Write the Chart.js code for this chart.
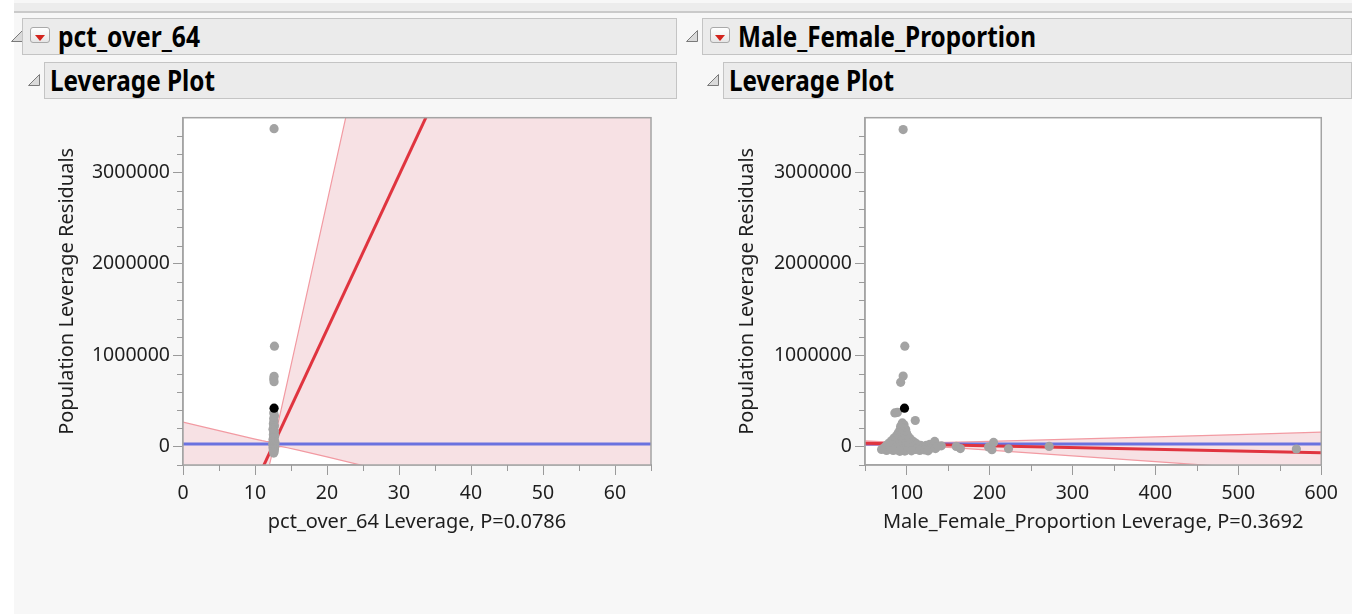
<!DOCTYPE html>
<html>
<head>
<meta charset="utf-8">
<script src="https://cdn.jsdelivr.net/npm/chart.js@4.4.1/dist/chart.umd.min.js"></script>
<style>
  body { margin:0; width:1368px; height:614px; background:#f7f7f7; position:relative; overflow:hidden; font-family:"Noto Sans", sans-serif; }
  .abs { position:absolute; }
  .strip { left:0; top:0; width:14px; height:614px; background:#fff; }
  .rstrip { left:1352px; top:0; width:16px; height:614px; background:#fff; }
  .topband { left:14px; top:3px; width:1338px; height:8px; background:#ececec; border-bottom:2px solid #cacaca; }
  .bar { height:37px; box-sizing:border-box; background:#ebebeb; border:1px solid #c4c4c4; }
  .ttl { font-weight:bold; font-size:28px; color:#000; white-space:nowrap; transform-origin:left center; line-height:32px; }
  .btn { width:20px; height:16px; box-sizing:border-box; border:1px solid #a9a9a9; border-radius:3px; background:linear-gradient(#ffffff,#e6e6e6); }
  .plot { width:625px; height:442px; }
</style>
</head>
<body>
<div class="abs strip"></div>
<div class="abs rstrip"></div>
<div class="abs topband"></div>

<!-- left panel headers -->
<svg class="abs" style="left:11px;top:30px" width="12" height="12"><polygon points="0.5,11.5 11.5,11.5 11.5,0.5" fill="#dadada" stroke="#7a7a7a"/></svg>
<div class="abs bar" style="left:22px;top:18px;width:655px"></div>
<div class="abs btn" style="left:30px;top:27px"><svg width="18" height="14"><polygon points="4,4 14,4 9,10" fill="#d3231c"/></svg></div>
<div class="abs ttl fit" data-w="142" style="left:58px;top:20px">pct_over_64</div>
<svg class="abs" style="left:28px;top:74px" width="12" height="12"><polygon points="0.5,11.5 11.5,11.5 11.5,0.5" fill="#dadada" stroke="#7a7a7a"/></svg>
<div class="abs bar" style="left:44px;top:62px;width:633px"></div>
<div class="abs ttl fit" data-w="165" style="left:50px;top:64px">Leverage Plot</div>

<!-- right panel headers -->
<svg class="abs" style="left:686px;top:30px" width="12" height="12"><polygon points="0.5,11.5 11.5,11.5 11.5,0.5" fill="#dadada" stroke="#7a7a7a"/></svg>
<div class="abs bar" style="left:702px;top:18px;width:650px"></div>
<div class="abs btn" style="left:710px;top:27px"><svg width="18" height="14"><polygon points="4,4 14,4 9,10" fill="#d3231c"/></svg></div>
<div class="abs ttl fit" data-w="298" style="left:738px;top:20px">Male_Female_Proportion</div>
<svg class="abs" style="left:707px;top:74px" width="12" height="12"><polygon points="0.5,11.5 11.5,11.5 11.5,0.5" fill="#dadada" stroke="#7a7a7a"/></svg>
<div class="abs bar" style="left:723px;top:62px;width:629px"></div>
<div class="abs ttl fit" data-w="165" style="left:729px;top:64px">Leverage Plot</div>

<div class="abs plot" style="left:40px;top:103px"><canvas id="leftChart" width="625" height="442"></canvas></div>
<div class="abs plot" style="left:720px;top:103px"><canvas id="rightChart" width="625" height="442"></canvas></div>

<script>
// ---- pct_over_64 leverage plot ----
const ageX = [12.6, 12.7, 12.6, 12.65, 12.55, 12.7, 12.6, 12.5, 12.7, 12.6, 12.55, 12.75, 12.6, 12.5,
  12.7, 12.6, 12.8, 12.45, 12.65, 12.55, 12.75, 12.5, 12.6, 12.7, 12.55, 12.65, 12.6,
  12.65, 12.7, 12.65, 12.6, 12.65];
const ageY = [370000, 340000, 310000, 280000, 250000, 230000, 210000, 190000, 170000, 150000, 130000, 120000, 100000, 80000,
  70000, 50000, 40000, 30000, 20000, 10000, 0, -10000, -20000, -30000, -40000, -55000, -70000,
  3480000, 1100000, 770000, 740000, 712000];
const ageBlack = [{ x: 12.65, y: 422000 }];
const ageFit = [{ x: 0, y: -2099400 }, { x: 65, y: 8885600 }];
const ageMean = 30000;
const ageCurveX = [0, 5, 10, 11, 11.5, 12, 12.3, 12.6, 12.9, 13.2, 13.7, 14.5, 16, 20, 25, 30, 65];
const ageUpper = [270160, 175659, 83070, 66325, 59428, 56366, 61647, 90000, 163047, 259166, 431228, 713304, 1246610, 2673093, 4457572, 6242350, 18737000];
const ageLower = [-4468960, -2684459, -901870, -547125, -371228, -199166, -103047, -30000, -1647, 3634, 572, -11104, -37410, -111893, -206372, -301150, -965783];
const ageXTicks = [0, 10, 20, 30, 40, 50, 60];
const ageXTicksMinor = [5, 15, 25, 35, 45, 55, 65];

// ---- Male_Female_Proportion leverage plot ----
const mfX = [96, 98, 96, 93, 86, 89, 110.6,
  95, 97, 93, 96, 99, 92, 95, 100, 90, 94, 97, 88, 102, 92, 96, 85, 104, 89, 99, 82, 107, 93, 86, 101, 79, 110,
  96, 90, 83, 105, 76, 113, 99, 93, 87, 80, 108, 117, 73, 102, 95, 89, 84, 111, 76, 120, 98, 92, 106, 70, 124,
  116, 128, 122, 130, 126, 134, 135, 138, 142,
  160, 165, 199, 205, 203, 223, 272, 570];
const mfY = [3470000, 1100000, 774000, 705000, 370000, 375000, 287000,
  260000, 240000, 225000, 205000, 190000, 180000, 165000, 150000, 150000, 135000, 120000, 120000, 115000, 100000, 90000, 95000, 90000, 75000, 70000, 65000, 65000, 55000, 45000, 45000, 40000, 45000,
  30000, 20000, 15000, 20000, 15000, 25000, 5000, -5000, -10000, -15000, -5000, 15000, -10000, -25000, -30000, -35000, -40000, -30000, -40000, -10000, -48000, -50000, -45000, -30000, 15000,
  -40000, 25000, -35000, -15000, -45000, 58000, -20000, 5000, 10000,
  3000, -20000, -3000, 47000, -33000, -22000, 3000, -25000];
const mfBlack = [{ x: 97.6, y: 422000 }];
const mfFit = [{ x: 50, y: 38930 }, { x: 600, y: -65570 }];
const mfMean = 30000;
const mfCurveX = [50, 75, 97, 120, 150, 200, 300, 400, 500, 600];
const mfUpper = [64668, 52092, 45000, 43789, 47881, 58657, 83002, 108097, 133391, 158767];
const mfLower = [13192, 16268, 15000, 7471, -8021, -37797, -100142, -163237, -226531, -289907];
const mfXTicks = [100, 200, 300, 400, 500, 600];
const mfXTicksMinor = [50, 150, 250, 350, 450, 550];

const yTicks = [0, 1000000, 2000000, 3000000];
const yTicksMinor = [-200000, 200000, 400000, 600000, 800000, 1200000, 1400000, 1600000, 1800000,
  2200000, 2400000, 2600000, 2800000, 3200000, 3400000];

const pts = (xs, ys) => xs.map((x, i) => ({ x: x, y: ys[i] }));

// white plot area, frame and the short minor ticks
const framePlugin = {
  id: 'frame',
  beforeDraw(chart) {
    const { ctx, chartArea: a } = chart;
    ctx.save();
    ctx.fillStyle = '#ffffff';
    ctx.fillRect(a.left, a.top, a.right - a.left, a.bottom - a.top);
    ctx.restore();
  },
  afterDraw(chart, args, opts) {
    const { ctx, chartArea: a, scales } = chart;
    ctx.save();
    ctx.strokeStyle = '#a4a4a4';
    ctx.lineWidth = 1.5;
    ctx.strokeRect(a.left, a.top, a.right - a.left, a.bottom - a.top);
    ctx.lineWidth = 1;
    ctx.strokeStyle = '#9a9a9a';
    ctx.beginPath();
    opts.xMinor.forEach(v => {
      const px = Math.round(scales.x.getPixelForValue(v)) + 0.5;
      ctx.moveTo(px, a.bottom); ctx.lineTo(px, a.bottom + 6);
    });
    opts.yMinor.forEach(v => {
      const py = Math.round(scales.y.getPixelForValue(v)) + 0.5;
      ctx.moveTo(a.left, py); ctx.lineTo(a.left - 6, py);
    });
    ctx.stroke();
    ctx.restore();
  }
};

function makeChart(id, o) {
  const tickFont = { family: '"Noto Sans", sans-serif', size: 19.5 };
  const titleFont = { family: '"Noto Sans", sans-serif', size: 20 };
  const config = {
    type: 'scatter',
    data: {
      datasets: [
        { data: o.black, backgroundColor: '#000000', pointRadius: 4.6, borderWidth: 0, order: 0 },
        { data: o.points, backgroundColor: '#a3a3a3', pointRadius: 4.6, borderWidth: 0, order: 1 },
        { type: 'line', data: o.fit, borderColor: '#e0343f', borderWidth: 3, pointRadius: 0, fill: false, order: 2 },
        { type: 'line', data: [{ x: o.xMin, y: o.mean }, { x: o.xMax, y: o.mean }], borderColor: '#6a72df', borderWidth: 3, pointRadius: 0, fill: false, order: 3 },
        { type: 'line', data: pts(o.curveX, o.upper), borderColor: '#f29aa2', borderWidth: 1.2, pointRadius: 0, fill: '+1', backgroundColor: '#f7e1e4', order: 4 },
        { type: 'line', data: pts(o.curveX, o.lower), borderColor: '#f29aa2', borderWidth: 1.2, pointRadius: 0, fill: false, order: 5 }
      ]
    },
    options: {
      responsive: false,
      animation: false,
      events: [],
      layout: { padding: { top: 10, right: 14, left: 0, bottom: 0 } },
      plugins: {
        legend: { display: false },
        tooltip: { enabled: false },
        filler: { drawTime: 'beforeDatasetsDraw' },
        frame: { xMinor: o.xMinor, yMinor: yTicksMinor }
      },
      scales: {
        x: {
          type: 'linear', min: o.xMin, max: o.xMax,
          ticks: { color: '#1e1e1e', font: tickFont, padding: 7, maxRotation: 0 },
          afterBuildTicks(scale) { scale.ticks = o.xTicks.map(v => ({ value: v })); },
          grid: { drawOnChartArea: false, tickLength: 10, tickColor: '#9a9a9a' },
          border: { color: '#a4a4a4', width: 1.5 },
          title: { display: true, text: o.xTitle, color: '#1e1e1e', font: titleFont, padding: { top: 0, bottom: 11 } },
          afterFit(scale) { scale.height = 80; }
        },
        y: {
          type: 'linear', min: -200000, max: 3600000,
          ticks: { color: '#1e1e1e', font: tickFont, padding: 3, callback: v => String(v) },
          afterBuildTicks(scale) { scale.ticks = yTicks.map(v => ({ value: v })); },
          grid: { drawOnChartArea: false, tickLength: 10, tickColor: '#9a9a9a' },
          border: { color: '#a4a4a4', width: 1.5 },
          title: { display: true, text: 'Population Leverage Residuals', color: '#1e1e1e', font: titleFont, padding: { top: 15, bottom: 0 } },
          afterFit(scale) { scale.width = o.yWidth; }
        }
      }
    },
    plugins: [framePlugin]
  };
  return new Chart(document.getElementById(id), config);
}

makeChart('leftChart', {
  black: ageBlack, points: pts(ageX, ageY), fit: ageFit, mean: ageMean,
  curveX: ageCurveX, upper: ageUpper, lower: ageLower,
  xMin: 0, xMax: 65, xTicks: ageXTicks, xMinor: ageXTicksMinor,
  xTitle: 'pct_over_64 Leverage, P=0.0786', yWidth: 143
});
makeChart('rightChart', {
  black: mfBlack, points: pts(mfX, mfY), fit: mfFit, mean: mfMean,
  curveX: mfCurveX, upper: mfUpper, lower: mfLower,
  xMin: 50, xMax: 600, xTicks: mfXTicks, xMinor: mfXTicksMinor,
  xTitle: 'Male_Female_Proportion Leverage, P=0.3692', yWidth: 145
});

// squeeze header titles to the width they have in the screenshot
document.querySelectorAll('.fit').forEach(el => {
  const w = el.getBoundingClientRect().width;
  el.style.transform = 'scaleX(' + (Number(el.dataset.w) / w) + ')';
});
</script>
</body>
</html>
